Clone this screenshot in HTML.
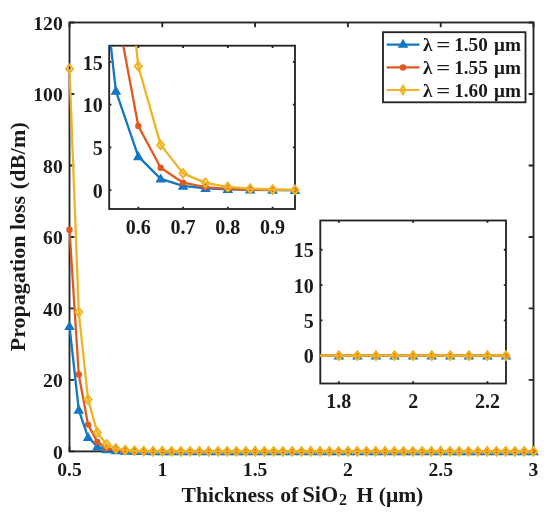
<!DOCTYPE html>
<html lang="en"><head><meta charset="utf-8"><title>Propagation loss</title>
<style>html,body{margin:0;padding:0;background:#fff}svg{display:block;filter:blur(0.4px)}</style></head>
<body>
<svg width="550" height="512" viewBox="0 0 550 512" font-family='"Liberation Serif", "DejaVu Serif", serif' font-weight="bold" fill="#1a1a1a">
<rect width="550" height="512" fill="#fff"/>
<rect x="69.5" y="22.5" width="464" height="428.9" fill="#fff" stroke="#242424" stroke-width="1.85"/>
<path d="M69.5 451.4v-4.8M69.5 22.5v4.8M162.3 451.4v-4.8M162.3 22.5v4.8M255.1 451.4v-4.8M255.1 22.5v4.8M347.9 451.4v-4.8M347.9 22.5v4.8M440.7 451.4v-4.8M440.7 22.5v4.8M533.5 451.4v-4.8M533.5 22.5v4.8M69.5 451.4h4.8M533.5 451.4h-4.8M69.5 379.92h4.8M533.5 379.92h-4.8M69.5 308.43h4.8M533.5 308.43h-4.8M69.5 236.95h4.8M533.5 236.95h-4.8M69.5 165.47h4.8M533.5 165.47h-4.8M69.5 93.98h4.8M533.5 93.98h-4.8M69.5 22.5h4.8M533.5 22.5h-4.8" stroke="#242424" stroke-width="1.85" fill="none"/>
<text x="69.5" y="476.2" text-anchor="middle" font-size="19.6">0.5</text>
<text x="162.3" y="476.2" text-anchor="middle" font-size="19.6">1</text>
<text x="255.1" y="476.2" text-anchor="middle" font-size="19.6">1.5</text>
<text x="347.9" y="476.2" text-anchor="middle" font-size="19.6">2</text>
<text x="440.7" y="476.2" text-anchor="middle" font-size="19.6">2.5</text>
<text x="533.5" y="476.2" text-anchor="middle" font-size="19.6">3</text>
<text x="62.7" y="458.87" text-anchor="end" font-size="19.6">0</text>
<text x="62.7" y="387.38" text-anchor="end" font-size="19.6">20</text>
<text x="62.7" y="315.9" text-anchor="end" font-size="19.6">40</text>
<text x="62.7" y="244.42" text-anchor="end" font-size="19.6">60</text>
<text x="62.7" y="172.93" text-anchor="end" font-size="19.6">80</text>
<text x="62.7" y="101.45" text-anchor="end" font-size="19.6">100</text>
<text x="62.7" y="29.97" text-anchor="end" font-size="19.6">120</text>
<clipPath id="c0"><rect x="69" y="22.5" width="465" height="429.9"/></clipPath>
<polyline clip-path="url(#c0)" points="69.5,326.3 78.78,409.94 88.06,437.28 97.34,446.65 106.62,449.61 115.9,450.61 125.18,451.04 134.46,451.26 143.74,451.35 153.02,451.38 162.3,451.39 171.58,451.4 180.86,451.4 190.14,451.4 199.42,451.4 208.7,451.4 217.98,451.4 227.26,451.4 236.54,451.4 245.82,451.4 255.1,451.4 264.38,451.4 273.66,451.4 282.94,451.4 292.22,451.4 301.5,451.4 310.78,451.4 320.06,451.4 329.34,451.4 338.62,451.4 347.9,451.4 357.18,451.4 366.46,451.4 375.74,451.4 385.02,451.4 394.3,451.4 403.58,451.4 412.86,451.4 422.14,451.4 431.42,451.4 440.7,451.4 449.98,451.4 459.26,451.4 468.54,451.4 477.82,451.4 487.1,451.4 496.38,451.4 505.66,451.4 514.94,451.4 524.22,451.4 533.5,451.4" fill="none" stroke="#1477c4" stroke-width="2.3" stroke-linejoin="round"/>
<polygon points="69.5,322.9 65.95,329.05 73.05,329.05" fill="#1477c4" fill-opacity="0.9" stroke="#1477c4" stroke-width="2" stroke-linejoin="miter"/>
<polygon points="78.78,406.54 75.23,412.69 82.33,412.69" fill="#1477c4" fill-opacity="0.9" stroke="#1477c4" stroke-width="2" stroke-linejoin="miter"/>
<polygon points="88.06,433.88 84.51,440.03 91.61,440.03" fill="#1477c4" fill-opacity="0.9" stroke="#1477c4" stroke-width="2" stroke-linejoin="miter"/>
<polygon points="97.34,443.25 93.79,449.4 100.89,449.4" fill="#1477c4" fill-opacity="0.9" stroke="#1477c4" stroke-width="2" stroke-linejoin="miter"/>
<polygon points="106.62,446.21 103.07,452.36 110.17,452.36" fill="#1477c4" fill-opacity="0.9" stroke="#1477c4" stroke-width="2" stroke-linejoin="miter"/>
<polygon points="115.9,447.21 112.35,453.36 119.45,453.36" fill="#1477c4" fill-opacity="0.9" stroke="#1477c4" stroke-width="2" stroke-linejoin="miter"/>
<polygon points="125.18,447.64 121.63,453.79 128.73,453.79" fill="#1477c4" fill-opacity="0.9" stroke="#1477c4" stroke-width="2" stroke-linejoin="miter"/>
<polygon points="134.46,447.86 130.91,454.01 138.01,454.01" fill="#1477c4" fill-opacity="0.9" stroke="#1477c4" stroke-width="2" stroke-linejoin="miter"/>
<polygon points="143.74,447.95 140.19,454.1 147.29,454.1" fill="#1477c4" fill-opacity="0.9" stroke="#1477c4" stroke-width="2" stroke-linejoin="miter"/>
<polygon points="153.02,447.98 149.47,454.13 156.57,454.13" fill="#1477c4" fill-opacity="0.9" stroke="#1477c4" stroke-width="2" stroke-linejoin="miter"/>
<polygon points="162.3,447.99 158.75,454.14 165.85,454.14" fill="#1477c4" fill-opacity="0.9" stroke="#1477c4" stroke-width="2" stroke-linejoin="miter"/>
<polygon points="171.58,448 168.03,454.15 175.13,454.15" fill="#1477c4" fill-opacity="0.9" stroke="#1477c4" stroke-width="2" stroke-linejoin="miter"/>
<polygon points="180.86,448 177.31,454.15 184.41,454.15" fill="#1477c4" fill-opacity="0.9" stroke="#1477c4" stroke-width="2" stroke-linejoin="miter"/>
<polygon points="190.14,448 186.59,454.15 193.69,454.15" fill="#1477c4" fill-opacity="0.9" stroke="#1477c4" stroke-width="2" stroke-linejoin="miter"/>
<polygon points="199.42,448 195.87,454.15 202.97,454.15" fill="#1477c4" fill-opacity="0.9" stroke="#1477c4" stroke-width="2" stroke-linejoin="miter"/>
<polygon points="208.7,448 205.15,454.15 212.25,454.15" fill="#1477c4" fill-opacity="0.9" stroke="#1477c4" stroke-width="2" stroke-linejoin="miter"/>
<polygon points="217.98,448 214.43,454.15 221.53,454.15" fill="#1477c4" fill-opacity="0.9" stroke="#1477c4" stroke-width="2" stroke-linejoin="miter"/>
<polygon points="227.26,448 223.71,454.15 230.81,454.15" fill="#1477c4" fill-opacity="0.9" stroke="#1477c4" stroke-width="2" stroke-linejoin="miter"/>
<polygon points="236.54,448 232.99,454.15 240.09,454.15" fill="#1477c4" fill-opacity="0.9" stroke="#1477c4" stroke-width="2" stroke-linejoin="miter"/>
<polygon points="245.82,448 242.27,454.15 249.37,454.15" fill="#1477c4" fill-opacity="0.9" stroke="#1477c4" stroke-width="2" stroke-linejoin="miter"/>
<polygon points="255.1,448 251.55,454.15 258.65,454.15" fill="#1477c4" fill-opacity="0.9" stroke="#1477c4" stroke-width="2" stroke-linejoin="miter"/>
<polygon points="264.38,448 260.83,454.15 267.93,454.15" fill="#1477c4" fill-opacity="0.9" stroke="#1477c4" stroke-width="2" stroke-linejoin="miter"/>
<polygon points="273.66,448 270.11,454.15 277.21,454.15" fill="#1477c4" fill-opacity="0.9" stroke="#1477c4" stroke-width="2" stroke-linejoin="miter"/>
<polygon points="282.94,448 279.39,454.15 286.49,454.15" fill="#1477c4" fill-opacity="0.9" stroke="#1477c4" stroke-width="2" stroke-linejoin="miter"/>
<polygon points="292.22,448 288.67,454.15 295.77,454.15" fill="#1477c4" fill-opacity="0.9" stroke="#1477c4" stroke-width="2" stroke-linejoin="miter"/>
<polygon points="301.5,448 297.95,454.15 305.05,454.15" fill="#1477c4" fill-opacity="0.9" stroke="#1477c4" stroke-width="2" stroke-linejoin="miter"/>
<polygon points="310.78,448 307.23,454.15 314.33,454.15" fill="#1477c4" fill-opacity="0.9" stroke="#1477c4" stroke-width="2" stroke-linejoin="miter"/>
<polygon points="320.06,448 316.51,454.15 323.61,454.15" fill="#1477c4" fill-opacity="0.9" stroke="#1477c4" stroke-width="2" stroke-linejoin="miter"/>
<polygon points="329.34,448 325.79,454.15 332.89,454.15" fill="#1477c4" fill-opacity="0.9" stroke="#1477c4" stroke-width="2" stroke-linejoin="miter"/>
<polygon points="338.62,448 335.07,454.15 342.17,454.15" fill="#1477c4" fill-opacity="0.9" stroke="#1477c4" stroke-width="2" stroke-linejoin="miter"/>
<polygon points="347.9,448 344.35,454.15 351.45,454.15" fill="#1477c4" fill-opacity="0.9" stroke="#1477c4" stroke-width="2" stroke-linejoin="miter"/>
<polygon points="357.18,448 353.63,454.15 360.73,454.15" fill="#1477c4" fill-opacity="0.9" stroke="#1477c4" stroke-width="2" stroke-linejoin="miter"/>
<polygon points="366.46,448 362.91,454.15 370.01,454.15" fill="#1477c4" fill-opacity="0.9" stroke="#1477c4" stroke-width="2" stroke-linejoin="miter"/>
<polygon points="375.74,448 372.19,454.15 379.29,454.15" fill="#1477c4" fill-opacity="0.9" stroke="#1477c4" stroke-width="2" stroke-linejoin="miter"/>
<polygon points="385.02,448 381.47,454.15 388.57,454.15" fill="#1477c4" fill-opacity="0.9" stroke="#1477c4" stroke-width="2" stroke-linejoin="miter"/>
<polygon points="394.3,448 390.75,454.15 397.85,454.15" fill="#1477c4" fill-opacity="0.9" stroke="#1477c4" stroke-width="2" stroke-linejoin="miter"/>
<polygon points="403.58,448 400.03,454.15 407.13,454.15" fill="#1477c4" fill-opacity="0.9" stroke="#1477c4" stroke-width="2" stroke-linejoin="miter"/>
<polygon points="412.86,448 409.31,454.15 416.41,454.15" fill="#1477c4" fill-opacity="0.9" stroke="#1477c4" stroke-width="2" stroke-linejoin="miter"/>
<polygon points="422.14,448 418.59,454.15 425.69,454.15" fill="#1477c4" fill-opacity="0.9" stroke="#1477c4" stroke-width="2" stroke-linejoin="miter"/>
<polygon points="431.42,448 427.87,454.15 434.97,454.15" fill="#1477c4" fill-opacity="0.9" stroke="#1477c4" stroke-width="2" stroke-linejoin="miter"/>
<polygon points="440.7,448 437.15,454.15 444.25,454.15" fill="#1477c4" fill-opacity="0.9" stroke="#1477c4" stroke-width="2" stroke-linejoin="miter"/>
<polygon points="449.98,448 446.43,454.15 453.53,454.15" fill="#1477c4" fill-opacity="0.9" stroke="#1477c4" stroke-width="2" stroke-linejoin="miter"/>
<polygon points="459.26,448 455.71,454.15 462.81,454.15" fill="#1477c4" fill-opacity="0.9" stroke="#1477c4" stroke-width="2" stroke-linejoin="miter"/>
<polygon points="468.54,448 464.99,454.15 472.09,454.15" fill="#1477c4" fill-opacity="0.9" stroke="#1477c4" stroke-width="2" stroke-linejoin="miter"/>
<polygon points="477.82,448 474.27,454.15 481.37,454.15" fill="#1477c4" fill-opacity="0.9" stroke="#1477c4" stroke-width="2" stroke-linejoin="miter"/>
<polygon points="487.1,448 483.55,454.15 490.65,454.15" fill="#1477c4" fill-opacity="0.9" stroke="#1477c4" stroke-width="2" stroke-linejoin="miter"/>
<polygon points="496.38,448 492.83,454.15 499.93,454.15" fill="#1477c4" fill-opacity="0.9" stroke="#1477c4" stroke-width="2" stroke-linejoin="miter"/>
<polygon points="505.66,448 502.11,454.15 509.21,454.15" fill="#1477c4" fill-opacity="0.9" stroke="#1477c4" stroke-width="2" stroke-linejoin="miter"/>
<polygon points="514.94,448 511.39,454.15 518.49,454.15" fill="#1477c4" fill-opacity="0.9" stroke="#1477c4" stroke-width="2" stroke-linejoin="miter"/>
<polygon points="524.22,448 520.67,454.15 527.77,454.15" fill="#1477c4" fill-opacity="0.9" stroke="#1477c4" stroke-width="2" stroke-linejoin="miter"/>
<polygon points="533.5,448 529.95,454.15 537.05,454.15" fill="#1477c4" fill-opacity="0.9" stroke="#1477c4" stroke-width="2" stroke-linejoin="miter"/>
<polyline clip-path="url(#c0)" points="69.5,229.8 78.78,374.56 88.06,424.59 97.34,442 106.62,448.25 115.9,450.08 125.18,450.83 134.46,451.17 143.74,451.31 153.02,451.36 162.3,451.39 171.58,451.39 180.86,451.4 190.14,451.4 199.42,451.4 208.7,451.4 217.98,451.4 227.26,451.4 236.54,451.4 245.82,451.4 255.1,451.4 264.38,451.4 273.66,451.4 282.94,451.4 292.22,451.4 301.5,451.4 310.78,451.4 320.06,451.4 329.34,451.4 338.62,451.4 347.9,451.4 357.18,451.4 366.46,451.4 375.74,451.4 385.02,451.4 394.3,451.4 403.58,451.4 412.86,451.4 422.14,451.4 431.42,451.4 440.7,451.4 449.98,451.4 459.26,451.4 468.54,451.4 477.82,451.4 487.1,451.4 496.38,451.4 505.66,451.4 514.94,451.4 524.22,451.4 533.5,451.4" fill="none" stroke="#de5a21" stroke-width="2.3" stroke-linejoin="round"/>
<circle cx="69.5" cy="229.8" r="3.2" fill="#de5a21"/>
<circle cx="78.78" cy="374.56" r="3.2" fill="#de5a21"/>
<circle cx="88.06" cy="424.59" r="3.2" fill="#de5a21"/>
<circle cx="97.34" cy="442" r="3.2" fill="#de5a21"/>
<circle cx="106.62" cy="448.25" r="3.2" fill="#de5a21"/>
<circle cx="115.9" cy="450.08" r="3.2" fill="#de5a21"/>
<circle cx="125.18" cy="450.83" r="3.2" fill="#de5a21"/>
<circle cx="134.46" cy="451.17" r="3.2" fill="#de5a21"/>
<circle cx="143.74" cy="451.31" r="3.2" fill="#de5a21"/>
<circle cx="153.02" cy="451.36" r="3.2" fill="#de5a21"/>
<circle cx="162.3" cy="451.39" r="3.2" fill="#de5a21"/>
<circle cx="171.58" cy="451.39" r="3.2" fill="#de5a21"/>
<circle cx="180.86" cy="451.4" r="3.2" fill="#de5a21"/>
<circle cx="190.14" cy="451.4" r="3.2" fill="#de5a21"/>
<circle cx="199.42" cy="451.4" r="3.2" fill="#de5a21"/>
<circle cx="208.7" cy="451.4" r="3.2" fill="#de5a21"/>
<circle cx="217.98" cy="451.4" r="3.2" fill="#de5a21"/>
<circle cx="227.26" cy="451.4" r="3.2" fill="#de5a21"/>
<circle cx="236.54" cy="451.4" r="3.2" fill="#de5a21"/>
<circle cx="245.82" cy="451.4" r="3.2" fill="#de5a21"/>
<circle cx="255.1" cy="451.4" r="3.2" fill="#de5a21"/>
<circle cx="264.38" cy="451.4" r="3.2" fill="#de5a21"/>
<circle cx="273.66" cy="451.4" r="3.2" fill="#de5a21"/>
<circle cx="282.94" cy="451.4" r="3.2" fill="#de5a21"/>
<circle cx="292.22" cy="451.4" r="3.2" fill="#de5a21"/>
<circle cx="301.5" cy="451.4" r="3.2" fill="#de5a21"/>
<circle cx="310.78" cy="451.4" r="3.2" fill="#de5a21"/>
<circle cx="320.06" cy="451.4" r="3.2" fill="#de5a21"/>
<circle cx="329.34" cy="451.4" r="3.2" fill="#de5a21"/>
<circle cx="338.62" cy="451.4" r="3.2" fill="#de5a21"/>
<circle cx="347.9" cy="451.4" r="3.2" fill="#de5a21"/>
<circle cx="357.18" cy="451.4" r="3.2" fill="#de5a21"/>
<circle cx="366.46" cy="451.4" r="3.2" fill="#de5a21"/>
<circle cx="375.74" cy="451.4" r="3.2" fill="#de5a21"/>
<circle cx="385.02" cy="451.4" r="3.2" fill="#de5a21"/>
<circle cx="394.3" cy="451.4" r="3.2" fill="#de5a21"/>
<circle cx="403.58" cy="451.4" r="3.2" fill="#de5a21"/>
<circle cx="412.86" cy="451.4" r="3.2" fill="#de5a21"/>
<circle cx="422.14" cy="451.4" r="3.2" fill="#de5a21"/>
<circle cx="431.42" cy="451.4" r="3.2" fill="#de5a21"/>
<circle cx="440.7" cy="451.4" r="3.2" fill="#de5a21"/>
<circle cx="449.98" cy="451.4" r="3.2" fill="#de5a21"/>
<circle cx="459.26" cy="451.4" r="3.2" fill="#de5a21"/>
<circle cx="468.54" cy="451.4" r="3.2" fill="#de5a21"/>
<circle cx="477.82" cy="451.4" r="3.2" fill="#de5a21"/>
<circle cx="487.1" cy="451.4" r="3.2" fill="#de5a21"/>
<circle cx="496.38" cy="451.4" r="3.2" fill="#de5a21"/>
<circle cx="505.66" cy="451.4" r="3.2" fill="#de5a21"/>
<circle cx="514.94" cy="451.4" r="3.2" fill="#de5a21"/>
<circle cx="524.22" cy="451.4" r="3.2" fill="#de5a21"/>
<circle cx="533.5" cy="451.4" r="3.2" fill="#de5a21"/>
<polyline clip-path="url(#c0)" points="69.5,68.96 78.78,312.01 88.06,399.57 97.34,432.46 106.62,444.36 115.9,448.33 125.18,450.04 134.46,450.76 143.74,451.12 153.02,451.28 162.3,451.35 171.58,451.38 180.86,451.39 190.14,451.4 199.42,451.4 208.7,451.4 217.98,451.4 227.26,451.4 236.54,451.4 245.82,451.4 255.1,451.4 264.38,451.4 273.66,451.4 282.94,451.4 292.22,451.4 301.5,451.4 310.78,451.4 320.06,451.4 329.34,451.4 338.62,451.4 347.9,451.4 357.18,451.4 366.46,451.4 375.74,451.4 385.02,451.4 394.3,451.4 403.58,451.4 412.86,451.4 422.14,451.4 431.42,451.4 440.7,451.4 449.98,451.4 459.26,451.4 468.54,451.4 477.82,451.4 487.1,451.4 496.38,451.4 505.66,451.4 514.94,451.4 524.22,451.4 533.5,451.4" fill="none" stroke="#f0b323" stroke-width="2.3" stroke-linejoin="round"/>
<polygon points="69.5,64.66 73,68.96 69.5,73.26 66,68.96" fill="none" stroke="#f0b323" stroke-width="2" stroke-linejoin="miter"/>
<polygon points="78.78,307.71 82.28,312.01 78.78,316.31 75.28,312.01" fill="none" stroke="#f0b323" stroke-width="2" stroke-linejoin="miter"/>
<polygon points="88.06,395.27 91.56,399.57 88.06,403.87 84.56,399.57" fill="none" stroke="#f0b323" stroke-width="2" stroke-linejoin="miter"/>
<polygon points="97.34,428.16 100.84,432.46 97.34,436.76 93.84,432.46" fill="none" stroke="#f0b323" stroke-width="2" stroke-linejoin="miter"/>
<polygon points="106.62,440.06 110.12,444.36 106.62,448.66 103.12,444.36" fill="none" stroke="#f0b323" stroke-width="2" stroke-linejoin="miter"/>
<polygon points="115.9,444.03 119.4,448.33 115.9,452.63 112.4,448.33" fill="none" stroke="#f0b323" stroke-width="2" stroke-linejoin="miter"/>
<polygon points="125.18,445.74 128.68,450.04 125.18,454.34 121.68,450.04" fill="none" stroke="#f0b323" stroke-width="2" stroke-linejoin="miter"/>
<polygon points="134.46,446.46 137.96,450.76 134.46,455.06 130.96,450.76" fill="none" stroke="#f0b323" stroke-width="2" stroke-linejoin="miter"/>
<polygon points="143.74,446.82 147.24,451.12 143.74,455.42 140.24,451.12" fill="none" stroke="#f0b323" stroke-width="2" stroke-linejoin="miter"/>
<polygon points="153.02,446.98 156.52,451.28 153.02,455.58 149.52,451.28" fill="none" stroke="#f0b323" stroke-width="2" stroke-linejoin="miter"/>
<polygon points="162.3,447.05 165.8,451.35 162.3,455.65 158.8,451.35" fill="none" stroke="#f0b323" stroke-width="2" stroke-linejoin="miter"/>
<polygon points="171.58,447.08 175.08,451.38 171.58,455.68 168.08,451.38" fill="none" stroke="#f0b323" stroke-width="2" stroke-linejoin="miter"/>
<polygon points="180.86,447.09 184.36,451.39 180.86,455.69 177.36,451.39" fill="none" stroke="#f0b323" stroke-width="2" stroke-linejoin="miter"/>
<polygon points="190.14,447.1 193.64,451.4 190.14,455.7 186.64,451.4" fill="none" stroke="#f0b323" stroke-width="2" stroke-linejoin="miter"/>
<polygon points="199.42,447.1 202.92,451.4 199.42,455.7 195.92,451.4" fill="none" stroke="#f0b323" stroke-width="2" stroke-linejoin="miter"/>
<polygon points="208.7,447.1 212.2,451.4 208.7,455.7 205.2,451.4" fill="none" stroke="#f0b323" stroke-width="2" stroke-linejoin="miter"/>
<polygon points="217.98,447.1 221.48,451.4 217.98,455.7 214.48,451.4" fill="none" stroke="#f0b323" stroke-width="2" stroke-linejoin="miter"/>
<polygon points="227.26,447.1 230.76,451.4 227.26,455.7 223.76,451.4" fill="none" stroke="#f0b323" stroke-width="2" stroke-linejoin="miter"/>
<polygon points="236.54,447.1 240.04,451.4 236.54,455.7 233.04,451.4" fill="none" stroke="#f0b323" stroke-width="2" stroke-linejoin="miter"/>
<polygon points="245.82,447.1 249.32,451.4 245.82,455.7 242.32,451.4" fill="none" stroke="#f0b323" stroke-width="2" stroke-linejoin="miter"/>
<polygon points="255.1,447.1 258.6,451.4 255.1,455.7 251.6,451.4" fill="none" stroke="#f0b323" stroke-width="2" stroke-linejoin="miter"/>
<polygon points="264.38,447.1 267.88,451.4 264.38,455.7 260.88,451.4" fill="none" stroke="#f0b323" stroke-width="2" stroke-linejoin="miter"/>
<polygon points="273.66,447.1 277.16,451.4 273.66,455.7 270.16,451.4" fill="none" stroke="#f0b323" stroke-width="2" stroke-linejoin="miter"/>
<polygon points="282.94,447.1 286.44,451.4 282.94,455.7 279.44,451.4" fill="none" stroke="#f0b323" stroke-width="2" stroke-linejoin="miter"/>
<polygon points="292.22,447.1 295.72,451.4 292.22,455.7 288.72,451.4" fill="none" stroke="#f0b323" stroke-width="2" stroke-linejoin="miter"/>
<polygon points="301.5,447.1 305,451.4 301.5,455.7 298,451.4" fill="none" stroke="#f0b323" stroke-width="2" stroke-linejoin="miter"/>
<polygon points="310.78,447.1 314.28,451.4 310.78,455.7 307.28,451.4" fill="none" stroke="#f0b323" stroke-width="2" stroke-linejoin="miter"/>
<polygon points="320.06,447.1 323.56,451.4 320.06,455.7 316.56,451.4" fill="none" stroke="#f0b323" stroke-width="2" stroke-linejoin="miter"/>
<polygon points="329.34,447.1 332.84,451.4 329.34,455.7 325.84,451.4" fill="none" stroke="#f0b323" stroke-width="2" stroke-linejoin="miter"/>
<polygon points="338.62,447.1 342.12,451.4 338.62,455.7 335.12,451.4" fill="none" stroke="#f0b323" stroke-width="2" stroke-linejoin="miter"/>
<polygon points="347.9,447.1 351.4,451.4 347.9,455.7 344.4,451.4" fill="none" stroke="#f0b323" stroke-width="2" stroke-linejoin="miter"/>
<polygon points="357.18,447.1 360.68,451.4 357.18,455.7 353.68,451.4" fill="none" stroke="#f0b323" stroke-width="2" stroke-linejoin="miter"/>
<polygon points="366.46,447.1 369.96,451.4 366.46,455.7 362.96,451.4" fill="none" stroke="#f0b323" stroke-width="2" stroke-linejoin="miter"/>
<polygon points="375.74,447.1 379.24,451.4 375.74,455.7 372.24,451.4" fill="none" stroke="#f0b323" stroke-width="2" stroke-linejoin="miter"/>
<polygon points="385.02,447.1 388.52,451.4 385.02,455.7 381.52,451.4" fill="none" stroke="#f0b323" stroke-width="2" stroke-linejoin="miter"/>
<polygon points="394.3,447.1 397.8,451.4 394.3,455.7 390.8,451.4" fill="none" stroke="#f0b323" stroke-width="2" stroke-linejoin="miter"/>
<polygon points="403.58,447.1 407.08,451.4 403.58,455.7 400.08,451.4" fill="none" stroke="#f0b323" stroke-width="2" stroke-linejoin="miter"/>
<polygon points="412.86,447.1 416.36,451.4 412.86,455.7 409.36,451.4" fill="none" stroke="#f0b323" stroke-width="2" stroke-linejoin="miter"/>
<polygon points="422.14,447.1 425.64,451.4 422.14,455.7 418.64,451.4" fill="none" stroke="#f0b323" stroke-width="2" stroke-linejoin="miter"/>
<polygon points="431.42,447.1 434.92,451.4 431.42,455.7 427.92,451.4" fill="none" stroke="#f0b323" stroke-width="2" stroke-linejoin="miter"/>
<polygon points="440.7,447.1 444.2,451.4 440.7,455.7 437.2,451.4" fill="none" stroke="#f0b323" stroke-width="2" stroke-linejoin="miter"/>
<polygon points="449.98,447.1 453.48,451.4 449.98,455.7 446.48,451.4" fill="none" stroke="#f0b323" stroke-width="2" stroke-linejoin="miter"/>
<polygon points="459.26,447.1 462.76,451.4 459.26,455.7 455.76,451.4" fill="none" stroke="#f0b323" stroke-width="2" stroke-linejoin="miter"/>
<polygon points="468.54,447.1 472.04,451.4 468.54,455.7 465.04,451.4" fill="none" stroke="#f0b323" stroke-width="2" stroke-linejoin="miter"/>
<polygon points="477.82,447.1 481.32,451.4 477.82,455.7 474.32,451.4" fill="none" stroke="#f0b323" stroke-width="2" stroke-linejoin="miter"/>
<polygon points="487.1,447.1 490.6,451.4 487.1,455.7 483.6,451.4" fill="none" stroke="#f0b323" stroke-width="2" stroke-linejoin="miter"/>
<polygon points="496.38,447.1 499.88,451.4 496.38,455.7 492.88,451.4" fill="none" stroke="#f0b323" stroke-width="2" stroke-linejoin="miter"/>
<polygon points="505.66,447.1 509.16,451.4 505.66,455.7 502.16,451.4" fill="none" stroke="#f0b323" stroke-width="2" stroke-linejoin="miter"/>
<polygon points="514.94,447.1 518.44,451.4 514.94,455.7 511.44,451.4" fill="none" stroke="#f0b323" stroke-width="2" stroke-linejoin="miter"/>
<polygon points="524.22,447.1 527.72,451.4 524.22,455.7 520.72,451.4" fill="none" stroke="#f0b323" stroke-width="2" stroke-linejoin="miter"/>
<polygon points="533.5,447.1 537,451.4 533.5,455.7 530,451.4" fill="none" stroke="#f0b323" stroke-width="2" stroke-linejoin="miter"/>
<text x="181.5" y="501.6" font-size="21.6">Thickness <tspan dx="1">of</tspan> <tspan x="302.5" font-size="22.2">SiO</tspan><tspan x="339" dy="2.9" font-size="16">2</tspan> <tspan x="356.5" dy="-2.9">H (μm)</tspan></text>
<text transform="translate(25.4,351.3) rotate(-90)" font-size="22">Propagation loss <tspan dx="1.2" letter-spacing="0.2">(dB/m)</tspan></text>
<rect x="109.2" y="45.7" width="185.8" height="163.3" fill="#fff" stroke="#242424" stroke-width="1.85"/>
<path d="M138.3 209v-2.2M138.3 45.7v2.2M183.07 209v-2.2M183.07 45.7v2.2M227.84 209v-2.2M227.84 45.7v2.2M272.61 209v-2.2M272.61 45.7v2.2M109.2 190.19h2.2M295 190.19h-2.2M109.2 147.44h2.2M295 147.44h-2.2M109.2 104.69h2.2M295 104.69h-2.2M109.2 61.94h2.2M295 61.94h-2.2" stroke="#242424" stroke-width="1.85" fill="none"/>
<text x="138.3" y="233.9" text-anchor="middle" font-size="20">0.6</text>
<text x="183.07" y="233.9" text-anchor="middle" font-size="20">0.7</text>
<text x="227.84" y="233.9" text-anchor="middle" font-size="20">0.8</text>
<text x="272.61" y="233.9" text-anchor="middle" font-size="20">0.9</text>
<text x="102.7" y="197.79" text-anchor="end" font-size="20">0</text>
<text x="102.7" y="155.04" text-anchor="end" font-size="20">5</text>
<text x="102.7" y="112.29" text-anchor="end" font-size="20">10</text>
<text x="102.7" y="69.54" text-anchor="end" font-size="20">15</text>
<clipPath id="c1"><rect x="108.7" y="45.7" width="186.8" height="164.3"/></clipPath>
<polyline clip-path="url(#c1)" points="93.53,-109.05 115.92,91.01 138.3,156.42 160.69,178.82 183.07,185.92 205.46,188.31 227.84,189.34 250.23,189.86 272.61,190.06 295,190.14 317.39,190.17 339.77,190.18" fill="none" stroke="#1477c4" stroke-width="2.3" stroke-linejoin="round"/>
<polygon points="115.92,87.61 112.37,93.76 119.47,93.76" fill="#1477c4" fill-opacity="0.9" stroke="#1477c4" stroke-width="2" stroke-linejoin="miter"/>
<polygon points="138.3,153.02 134.75,159.17 141.85,159.17" fill="#1477c4" fill-opacity="0.9" stroke="#1477c4" stroke-width="2" stroke-linejoin="miter"/>
<polygon points="160.69,175.42 157.14,181.57 164.24,181.57" fill="#1477c4" fill-opacity="0.9" stroke="#1477c4" stroke-width="2" stroke-linejoin="miter"/>
<polygon points="183.07,182.52 179.52,188.67 186.62,188.67" fill="#1477c4" fill-opacity="0.9" stroke="#1477c4" stroke-width="2" stroke-linejoin="miter"/>
<polygon points="205.46,184.91 201.91,191.06 209.01,191.06" fill="#1477c4" fill-opacity="0.9" stroke="#1477c4" stroke-width="2" stroke-linejoin="miter"/>
<polygon points="227.84,185.94 224.29,192.09 231.39,192.09" fill="#1477c4" fill-opacity="0.9" stroke="#1477c4" stroke-width="2" stroke-linejoin="miter"/>
<polygon points="250.23,186.46 246.68,192.61 253.78,192.61" fill="#1477c4" fill-opacity="0.9" stroke="#1477c4" stroke-width="2" stroke-linejoin="miter"/>
<polygon points="272.61,186.66 269.06,192.81 276.17,192.81" fill="#1477c4" fill-opacity="0.9" stroke="#1477c4" stroke-width="2" stroke-linejoin="miter"/>
<polygon points="295,186.74 291.45,192.89 298.55,192.89" fill="#1477c4" fill-opacity="0.9" stroke="#1477c4" stroke-width="2" stroke-linejoin="miter"/>
<polyline clip-path="url(#c1)" points="93.53,-339.89 115.92,6.37 138.3,126.07 160.69,167.7 183.07,182.67 205.46,187.03 227.84,188.82 250.23,189.64 272.61,189.97 295,190.1 317.39,190.16 339.77,190.18" fill="none" stroke="#de5a21" stroke-width="2.3" stroke-linejoin="round"/>
<circle cx="138.3" cy="126.07" r="3.2" fill="#de5a21"/>
<circle cx="160.69" cy="167.7" r="3.2" fill="#de5a21"/>
<circle cx="183.07" cy="182.67" r="3.2" fill="#de5a21"/>
<circle cx="205.46" cy="187.03" r="3.2" fill="#de5a21"/>
<circle cx="227.84" cy="188.82" r="3.2" fill="#de5a21"/>
<circle cx="250.23" cy="189.64" r="3.2" fill="#de5a21"/>
<circle cx="272.61" cy="189.97" r="3.2" fill="#de5a21"/>
<circle cx="295" cy="190.1" r="3.2" fill="#de5a21"/>
<polyline clip-path="url(#c1)" points="93.53,-724.63 115.92,-143.25 138.3,66.22 160.69,144.88 183.07,173.35 205.46,182.84 227.84,186.94 250.23,188.65 272.61,189.52 295,189.9 317.39,190.06 339.77,190.14" fill="none" stroke="#f0b323" stroke-width="2.3" stroke-linejoin="round"/>
<polygon points="138.3,61.92 141.8,66.22 138.3,70.52 134.8,66.22" fill="none" stroke="#f0b323" stroke-width="2" stroke-linejoin="miter"/>
<polygon points="160.69,140.58 164.19,144.88 160.69,149.18 157.19,144.88" fill="none" stroke="#f0b323" stroke-width="2" stroke-linejoin="miter"/>
<polygon points="183.07,169.05 186.57,173.35 183.07,177.65 179.57,173.35" fill="none" stroke="#f0b323" stroke-width="2" stroke-linejoin="miter"/>
<polygon points="205.46,178.54 208.96,182.84 205.46,187.14 201.96,182.84" fill="none" stroke="#f0b323" stroke-width="2" stroke-linejoin="miter"/>
<polygon points="227.84,182.64 231.34,186.94 227.84,191.24 224.34,186.94" fill="none" stroke="#f0b323" stroke-width="2" stroke-linejoin="miter"/>
<polygon points="250.23,184.35 253.73,188.65 250.23,192.95 246.73,188.65" fill="none" stroke="#f0b323" stroke-width="2" stroke-linejoin="miter"/>
<polygon points="272.61,185.22 276.11,189.52 272.61,193.82 269.11,189.52" fill="none" stroke="#f0b323" stroke-width="2" stroke-linejoin="miter"/>
<polygon points="295,185.6 298.5,189.9 295,194.2 291.5,189.9" fill="none" stroke="#f0b323" stroke-width="2" stroke-linejoin="miter"/>
<rect x="320.3" y="220.5" width="185.7" height="163" fill="#fff" stroke="#242424" stroke-width="1.85"/>
<path d="M338.84 383.5v-2.2M338.84 220.5v2.2M413.13 383.5v-2.2M413.13 220.5v2.2M487.43 383.5v-2.2M487.43 220.5v2.2M320.3 355.63h2.2M506 355.63h-2.2M320.3 320.35h2.2M506 320.35h-2.2M320.3 285.06h2.2M506 285.06h-2.2M320.3 249.78h2.2M506 249.78h-2.2" stroke="#242424" stroke-width="1.85" fill="none"/>
<text x="338.84" y="408.4" text-anchor="middle" font-size="20">1.8</text>
<text x="413.13" y="408.4" text-anchor="middle" font-size="20">2</text>
<text x="487.43" y="408.4" text-anchor="middle" font-size="20">2.2</text>
<text x="313.8" y="363.23" text-anchor="end" font-size="20">0</text>
<text x="313.8" y="327.95" text-anchor="end" font-size="20">5</text>
<text x="313.8" y="292.66" text-anchor="end" font-size="20">10</text>
<text x="313.8" y="257.38" text-anchor="end" font-size="20">15</text>
<clipPath id="c2"><rect x="319.8" y="220.5" width="186.7" height="164"/></clipPath>
<polyline clip-path="url(#c2)" points="283.12,355.63 301.69,355.63 320.26,355.63 338.84,355.63 357.41,355.63 375.98,355.63 394.56,355.63 413.13,355.63 431.71,355.63 450.28,355.63 468.85,355.63 487.43,355.63 506,355.63 524.57,355.63 543.15,355.63" fill="none" stroke="#1477c4" stroke-width="2.3" stroke-linejoin="round"/>
<polygon points="338.84,352.23 335.29,358.38 342.39,358.38" fill="#1477c4" fill-opacity="0.9" stroke="#1477c4" stroke-width="2" stroke-linejoin="miter"/>
<polygon points="357.41,352.23 353.86,358.38 360.96,358.38" fill="#1477c4" fill-opacity="0.9" stroke="#1477c4" stroke-width="2" stroke-linejoin="miter"/>
<polygon points="375.98,352.23 372.43,358.38 379.53,358.38" fill="#1477c4" fill-opacity="0.9" stroke="#1477c4" stroke-width="2" stroke-linejoin="miter"/>
<polygon points="394.56,352.23 391.01,358.38 398.11,358.38" fill="#1477c4" fill-opacity="0.9" stroke="#1477c4" stroke-width="2" stroke-linejoin="miter"/>
<polygon points="413.13,352.23 409.58,358.38 416.68,358.38" fill="#1477c4" fill-opacity="0.9" stroke="#1477c4" stroke-width="2" stroke-linejoin="miter"/>
<polygon points="431.71,352.23 428.15,358.38 435.26,358.38" fill="#1477c4" fill-opacity="0.9" stroke="#1477c4" stroke-width="2" stroke-linejoin="miter"/>
<polygon points="450.28,352.23 446.73,358.38 453.83,358.38" fill="#1477c4" fill-opacity="0.9" stroke="#1477c4" stroke-width="2" stroke-linejoin="miter"/>
<polygon points="468.85,352.23 465.3,358.38 472.4,358.38" fill="#1477c4" fill-opacity="0.9" stroke="#1477c4" stroke-width="2" stroke-linejoin="miter"/>
<polygon points="487.43,352.23 483.88,358.38 490.98,358.38" fill="#1477c4" fill-opacity="0.9" stroke="#1477c4" stroke-width="2" stroke-linejoin="miter"/>
<polygon points="506,352.23 502.45,358.38 509.55,358.38" fill="#1477c4" fill-opacity="0.9" stroke="#1477c4" stroke-width="2" stroke-linejoin="miter"/>
<polyline clip-path="url(#c2)" points="283.12,355.63 301.69,355.63 320.26,355.63 338.84,355.63 357.41,355.63 375.98,355.63 394.56,355.63 413.13,355.63 431.71,355.63 450.28,355.63 468.85,355.63 487.43,355.63 506,355.63 524.57,355.63 543.15,355.63" fill="none" stroke="#de5a21" stroke-width="2.3" stroke-linejoin="round"/>
<circle cx="338.84" cy="355.63" r="3.2" fill="#de5a21"/>
<circle cx="357.41" cy="355.63" r="3.2" fill="#de5a21"/>
<circle cx="375.98" cy="355.63" r="3.2" fill="#de5a21"/>
<circle cx="394.56" cy="355.63" r="3.2" fill="#de5a21"/>
<circle cx="413.13" cy="355.63" r="3.2" fill="#de5a21"/>
<circle cx="431.71" cy="355.63" r="3.2" fill="#de5a21"/>
<circle cx="450.28" cy="355.63" r="3.2" fill="#de5a21"/>
<circle cx="468.85" cy="355.63" r="3.2" fill="#de5a21"/>
<circle cx="487.43" cy="355.63" r="3.2" fill="#de5a21"/>
<circle cx="506" cy="355.63" r="3.2" fill="#de5a21"/>
<polyline clip-path="url(#c2)" points="283.12,355.63 301.69,355.63 320.26,355.63 338.84,355.63 357.41,355.63 375.98,355.63 394.56,355.63 413.13,355.63 431.71,355.63 450.28,355.63 468.85,355.63 487.43,355.63 506,355.63 524.57,355.63 543.15,355.63" fill="none" stroke="#f0b323" stroke-width="2.3" stroke-linejoin="round"/>
<polygon points="338.84,351.33 342.34,355.63 338.84,359.93 335.34,355.63" fill="none" stroke="#f0b323" stroke-width="2" stroke-linejoin="miter"/>
<polygon points="357.41,351.33 360.91,355.63 357.41,359.93 353.91,355.63" fill="none" stroke="#f0b323" stroke-width="2" stroke-linejoin="miter"/>
<polygon points="375.98,351.33 379.48,355.63 375.98,359.93 372.48,355.63" fill="none" stroke="#f0b323" stroke-width="2" stroke-linejoin="miter"/>
<polygon points="394.56,351.33 398.06,355.63 394.56,359.93 391.06,355.63" fill="none" stroke="#f0b323" stroke-width="2" stroke-linejoin="miter"/>
<polygon points="413.13,351.33 416.63,355.63 413.13,359.93 409.63,355.63" fill="none" stroke="#f0b323" stroke-width="2" stroke-linejoin="miter"/>
<polygon points="431.71,351.33 435.21,355.63 431.71,359.93 428.21,355.63" fill="none" stroke="#f0b323" stroke-width="2" stroke-linejoin="miter"/>
<polygon points="450.28,351.33 453.78,355.63 450.28,359.93 446.78,355.63" fill="none" stroke="#f0b323" stroke-width="2" stroke-linejoin="miter"/>
<polygon points="468.85,351.33 472.35,355.63 468.85,359.93 465.35,355.63" fill="none" stroke="#f0b323" stroke-width="2" stroke-linejoin="miter"/>
<polygon points="487.43,351.33 490.93,355.63 487.43,359.93 483.93,355.63" fill="none" stroke="#f0b323" stroke-width="2" stroke-linejoin="miter"/>
<polygon points="506,351.33 509.5,355.63 506,359.93 502.5,355.63" fill="none" stroke="#f0b323" stroke-width="2" stroke-linejoin="miter"/>
<rect x="383" y="32.2" width="142.5" height="70.1" fill="#fff" stroke="#242424" stroke-width="1.85"/>
<path d="M386.6 44.6H419.5" stroke="#1477c4" stroke-width="2.2"/>
<polygon points="403,40.7 399.45,46.85 406.55,46.85" fill="#1477c4" fill-opacity="0.9" stroke="#1477c4" stroke-width="2" stroke-linejoin="miter"/>
<text x="423" y="51.1" font-size="19.2">λ <tspan x="436.3" textLength="14" lengthAdjust="spacingAndGlyphs">=</tspan> <tspan x="454.2">1.50</tspan> <tspan x="494.1">μm</tspan></text>
<path d="M386.6 67.4H419.5" stroke="#de5a21" stroke-width="2.2"/>
<circle cx="403" cy="67.4" r="3.2" fill="#de5a21"/>
<text x="423" y="73.9" font-size="19.2">λ <tspan x="436.3" textLength="14" lengthAdjust="spacingAndGlyphs">=</tspan> <tspan x="454.2">1.55</tspan> <tspan x="494.1">μm</tspan></text>
<path d="M386.6 90H419.5" stroke="#f0b323" stroke-width="2.2"/>
<polygon points="403,85.9 405.6,90 403,94.1 400.4,90" fill="none" stroke="#f0b323" stroke-width="2" stroke-linejoin="miter"/>
<text x="423" y="96.5" font-size="19.2">λ <tspan x="436.3" textLength="14" lengthAdjust="spacingAndGlyphs">=</tspan> <tspan x="454.2">1.60</tspan> <tspan x="494.1">μm</tspan></text>
</svg>
</body></html>
